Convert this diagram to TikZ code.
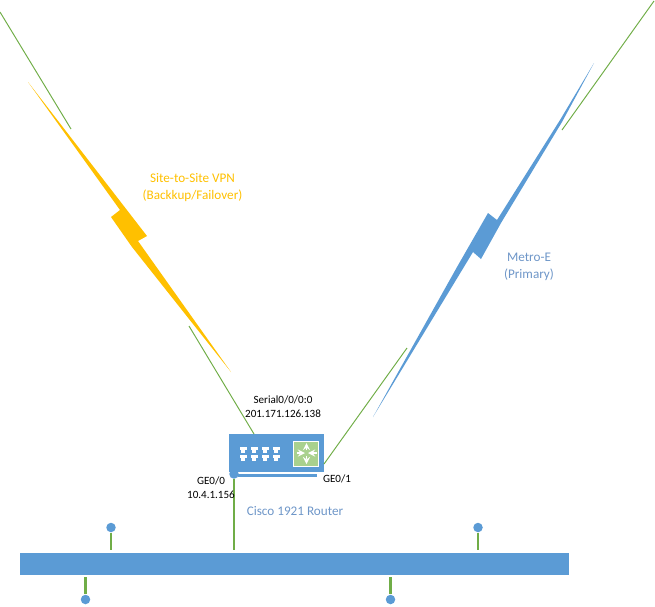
\documentclass[tikz,border=0pt]{standalone}
\usepackage{fontspec}
\setmainfont{Carlito}
\usepackage{tikz}
\usetikzlibrary{arrows,positioning,calc}
\definecolor{netblue}{RGB}{91,155,213}
\definecolor{netgreen}{RGB}{112,173,71}
\definecolor{netgold}{RGB}{255,192,0}
\definecolor{routerbox}{RGB}{169,209,142}
\definecolor{routertxt}{RGB}{110,150,200}
\tikzset{
  lbl/.style={font=\fontsize{7.5pt}{10pt}\selectfont, align=center, inner sep=0pt},
  tag/.style={font=\fontsize{6.3pt}{8pt}\selectfont, align=center, inner sep=0pt},
  link/.style={draw=netgreen, line width=.55pt},
  drop/.style={draw=netgreen, line width=1.2pt},
  dot/.style={circle, fill=netblue, inner sep=0pt, minimum size=.19cm},
  port/.style={fill=white, inner sep=0pt, minimum width=.14cm, minimum height=.06cm},
  pin/.style={fill=white, inner sep=0pt, minimum width=.08cm, minimum height=.06cm},
  flow/.style={-stealth, white, line width=.8pt},
}
\begin{document}
\begin{tikzpicture}[x=.02cm, y=-.02cm]
  \useasboundingbox (0,0) rectangle (655,606);
  % wan links
  \coordinate (vpn1) at (0,12);
  \coordinate (vpn2) at (71,129);
  \coordinate (vpn3) at (189,326);
  \coordinate (vpn4) at (254,434);
  \coordinate (metro1) at (654,1);
  \coordinate (metro2) at (562,130);
  \coordinate (metro3) at (407,348);
  \coordinate (metro4) at (324,464);
  \draw[link] (vpn1) -- (vpn2);
  \draw[link] (metro1) -- (metro2);
  % bolts
  \fill[netgold] (28,82) -- (120,210) -- (111,217) -- (132,247) -- (231,372) -- (138,241) -- (147,236) -- cycle;
  \fill[netblue] (594,63) -- (562,122) -- (501,223) -- (481,259) -- (473,252) -- (373,417) -- (457,267) -- (488,213) -- (497,220) -- (560,120) -- cycle;
  % router
  \node (router) at (276.5,453) [rectangle, fill=netblue, inner sep=0pt, minimum width=1.9cm, minimum height=.76cm] {};
  \node (base) at (277.5,475.5) [rectangle, fill=netblue, inner sep=0pt, minimum width=1.58cm, minimum height=.07cm] {};
  \node (corner) at (234,474) [dot] {};
  \node (engine) at (306,453.5) [rectangle, draw=white, fill=routerbox, inner sep=0pt, minimum size=.5cm] {};
  \foreach \x in {243,254,265,276} {
    \node (up\x) at (\x,448.5) [port] {};
    \node (upp\x) at (\x,451.5) [pin] {};
    \node (dn\x) at (\x,456) [port] {};
    \node (dnp\x) at (\x,459) [pin] {};
  }
  \draw[flow] (306.5,450) -- (306.5,443);
  \draw[flow] (306.5,456) -- (306.5,464);
  \draw[flow] (297,453) -- (305,453);
  \draw[flow] (317,453) -- (308,453);
  \draw[link] (vpn3) -- (vpn4);
  \draw[link] (metro3) -- (metro4);
  % lan segment
  \node (lan) at (294.5,564) [rectangle, fill=netblue, inner sep=0pt, minimum width=10.98cm, minimum height=.44cm] {};
  \node (h1) at (111,527.5) [dot] {};
  \node (h2) at (478,527.5) [dot] {};
  \node (h3) at (85.5,599.5) [dot] {};
  \node (h4) at (390.5,599.5) [dot] {};
  \coordinate (t1) at (111,550);
  \coordinate (t2) at (478,550);
  \coordinate (t3) at (85.5,577);
  \coordinate (t4) at (390.5,577);
  \coordinate (t0) at (234,550);
  \draw[drop] (h1) -- (t1);
  \draw[drop] (h2) -- (t2);
  \draw[drop] (h3) -- (t3);
  \draw[drop] (h4) -- (t4);
  \draw[drop] (corner) -- (t0);
  % labels
  \node (vpnlbl) at (192.5,187.5) [lbl, text=netgold] {Site-to-Site VPN\\(Backkup/Failover)};
  \node (metrolbl) at (529,267) [lbl, text=routertxt] {Metro-E\\(Primary)};
  \node (serial) at (283,407) [tag] {Serial0/0/0:0\\201.171.126.138};
  \node (ge0) at (211,488) [tag] {GE0/0\\10.4.1.156};
  \node (ge1) at (337,479) [tag] {GE0/1};
  \node (name) at (295,511) [lbl, text=routertxt] {Cisco 1921 Router};
\end{tikzpicture}
\end{document}
